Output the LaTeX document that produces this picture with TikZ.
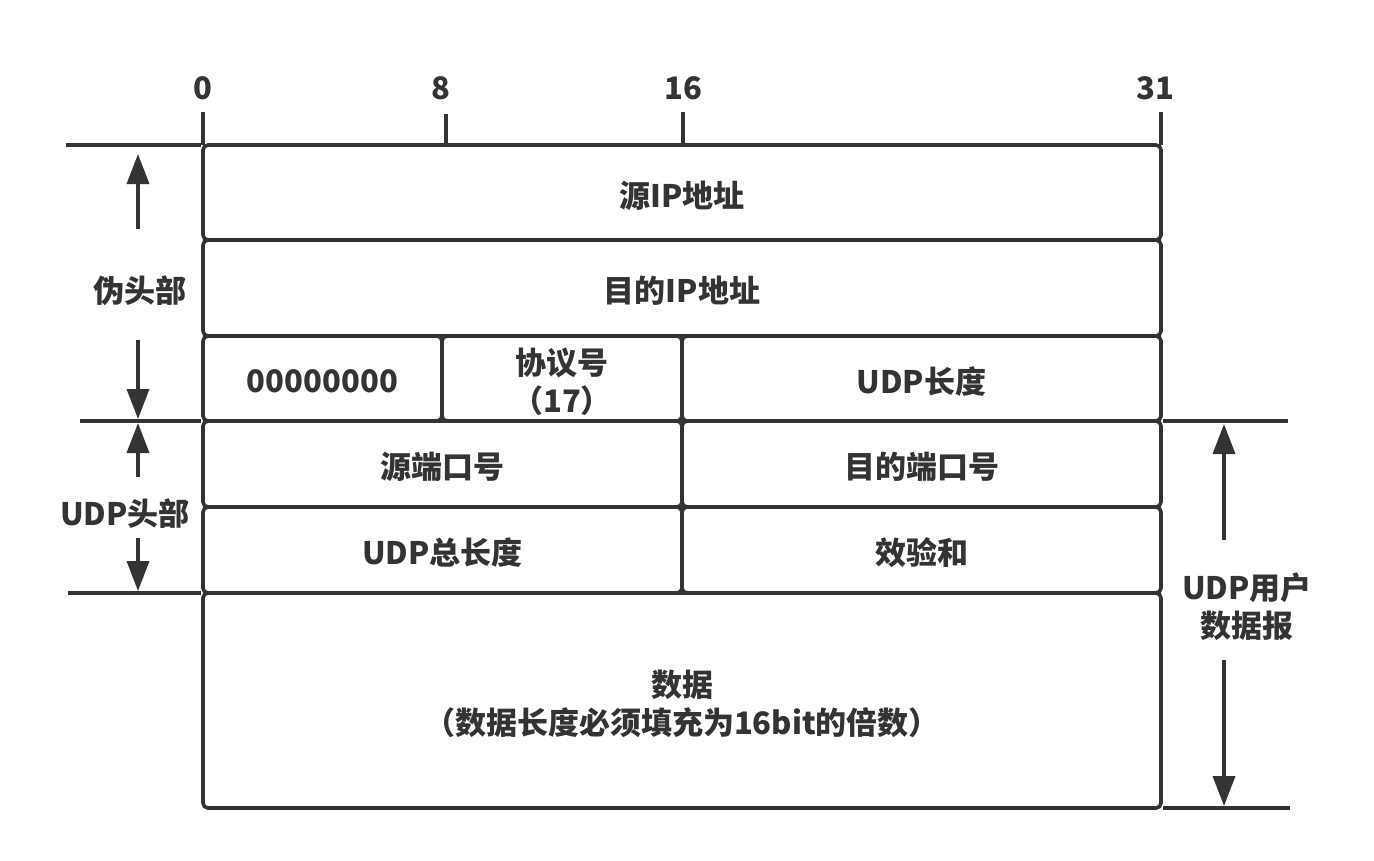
\documentclass[tikz,border=0pt]{standalone}
\usepackage{fontspec}
\setmainfont{Noto Sans CJK SC}
\usetikzlibrary{arrows.meta}
\definecolor{ink}{HTML}{333333}
\begin{document}
\begin{tikzpicture}[x=1pt,y=-1pt,
  every node/.style={text=ink,font=\fontsize{31}{38}\selectfont\bfseries},
  cell/.style={draw=ink,line width=3.6pt,rounded corners=5pt,inner sep=0pt},
  rule/.style={draw=ink,line width=3.6pt},
  dimarrow/.style={draw=ink,line width=3.6pt,-{Triangle[length=30pt,width=22pt]}},
  lbl/.style={align=center,inner sep=0pt},
  txt/.style={lbl,yshift=-3pt}]
\useasboundingbox (0,0) rectangle (1374,860);
% cells
\node[cell,minimum width=958pt,minimum height=95pt,label={[txt]center:源IP地址}] (srcip) at (682,192.5) {};
\node[cell,minimum width=958pt,minimum height=96pt,label={[txt]center:目的IP地址}] (dstip) at (682,288) {};
\node[cell,minimum width=239pt,minimum height=85pt,label={[txt]center:00000000}] (zero) at (322.5,378.5) {};
\node[cell,minimum width=240pt,minimum height=85pt,label={[txt]center:协议号\\（17）}] (proto) at (562,378.5) {};
\node[cell,minimum width=479pt,minimum height=85pt,label={[txt]center:UDP长度}] (udplen) at (921.5,378.5) {};
\node[cell,minimum width=479pt,minimum height=86pt,label={[txt]center:源端口号}] (srcport) at (442.5,464) {};
\node[cell,minimum width=479pt,minimum height=86pt,label={[txt]center:目的端口号}] (dstport) at (921.5,464) {};
\node[cell,minimum width=479pt,minimum height=86pt,label={[txt]center:UDP总长度}] (totlen) at (442.5,550) {};
\node[cell,minimum width=479pt,minimum height=86pt,label={[txt]center:效验和}] (cksum) at (921.5,550) {};
\node[cell,minimum width=958pt,minimum height=215pt,label={[txt]center:数据\\（数据长度必须填充为16bit的倍数）}] (data) at (682,700.5) {};
% bit positions
\node[lbl] (b0) at (203,88) {0};
\node[lbl] (b8) at (441,88) {8};
\node[lbl] (b16) at (683,88) {16};
\node[lbl] (b31) at (1155,88) {31};
\coordinate (t0a) at (203,112); \coordinate (t0b) at (203,145);
\coordinate (t8a) at (446,114); \coordinate (t8b) at (446,147);
\coordinate (t16a) at (683,112); \coordinate (t16b) at (683,145);
\coordinate (t31a) at (1161,112); \coordinate (t31b) at (1161,145);
\draw[rule] (t0a) -- (t0b);
\draw[rule] (t8a) -- (t8b);
\draw[rule] (t16a) -- (t16b);
\draw[rule] (t31a) -- (t31b);
% side rules
\coordinate (l1) at (66,145); \coordinate (l2) at (80,421); \coordinate (l3) at (68,593);
\coordinate (r2) at (1288,421); \coordinate (r3) at (1290,808);
\draw[rule] (l1) -- (l1 -| srcip.west);
\draw[rule] (l2) -- (l2 -| zero.west);
\draw[rule] (l3) -- (l3 -| totlen.west);
\draw[rule] (r2 -| udplen.east) -- (r2);
\draw[rule] (r3 -| data.east) -- (r3);
% side labels
\node[lbl] (pseudo) at (140,291) {伪头部};
\node[lbl] (udphdr) at (125,514) {UDP头部};
\node[lbl] (dgram) at (1247,607) {UDP用户\\数据报};
% dimension arrows
\coordinate (a1s) at (138,229); \coordinate (a1e) at (138,154);
\coordinate (a2s) at (138,340); \coordinate (a2e) at (138,419);
\coordinate (a3s) at (138,477); \coordinate (a3e) at (138,423);
\coordinate (a4s) at (138,538); \coordinate (a4e) at (138,591);
\coordinate (a5s) at (1224,540); \coordinate (a5e) at (1224,424);
\coordinate (a6s) at (1224,660); \coordinate (a6e) at (1224,806);
\draw[dimarrow] (a1s) -- (a1e);
\draw[dimarrow] (a2s) -- (a2e);
\draw[dimarrow] (a3s) -- (a3e);
\draw[dimarrow] (a4s) -- (a4e);
\draw[dimarrow] (a5s) -- (a5e);
\draw[dimarrow] (a6s) -- (a6e);
\end{tikzpicture}
\end{document}
